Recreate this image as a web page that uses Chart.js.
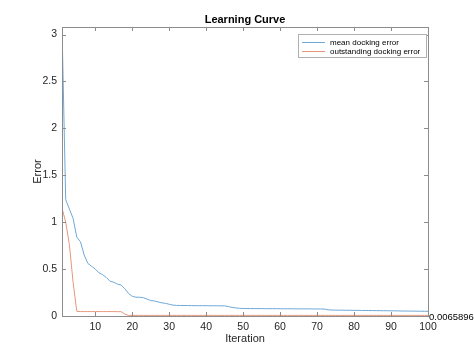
<!DOCTYPE html>
<html><head><meta charset="utf-8">
<script src="https://cdn.jsdelivr.net/npm/chart.js@4"></script>
<style>html,body{margin:0;padding:0;background:#fff}#w{width:474px;height:355px}</style>
</head><body><div id="w"><canvas id="c" width="474" height="355"></canvas></div>
<script>
const iterations = Array.from({length:100},(_,i)=>i+1);
const meanError = [3.08,1.24,1.14,1.04,0.84,0.79,0.65,0.56,0.53,0.50,
 0.46,0.44,0.41,0.37,0.36,0.34,0.33,0.29,0.24,0.21,
 0.20,0.20,0.195,0.18,0.165,0.16,0.15,0.14,0.135,0.125,
 0.116,0.113,0.112,0.112,0.111,0.111,0.110,0.110,0.110,0.110,
 0.109,0.109,0.109,0.108,0.108,0.100,0.092,0.086,0.082,0.080,
 0.080,0.079,0.079,0.079,0.079,0.078,0.078,0.078,0.078,0.077,
 0.077,0.077,0.077,0.076,0.076,0.076,0.076,0.076,0.075,0.075,
 0.075,0.074,0.066,0.063,0.063,0.062,0.062,0.061,0.061,0.060,
 0.060,0.059,0.059,0.058,0.058,0.057,0.057,0.056,0.056,0.055,
 0.055,0.054,0.053,0.053,0.052,0.052,0.051,0.051,0.050,0.050];
const outstandingError = [1.15,1.0,0.76,0.36,0.05,0.047,0.047,0.047,0.047,0.047,
 0.047,0.047,0.047,0.047,0.047,0.046,0.046,0.02,0.0066,0.0066];
for (let i = outstandingError.length; i < 100; i++) outstandingError.push(0.0065896);
const finalLabel = "0.0065896";
const xTicks = [10,20,30,40,50,60,70,80,90,100];
const yTicks = [0,0.5,1,1.5,2,2.5,3];
const seriesNames = ["mean docking error","outstanding docking error"];
const colors = ["#6ea8d8","#e6977a"];

const FONT = "'Liberation Sans', Arial, Helvetica, sans-serif";
const axisColor = "#8c8c8c";

const decor = {
  id:'decor',
  afterDatasetsDraw(chart){
    const {ctx, chartArea:a, scales:{x,y}} = chart;
    ctx.save();
    ctx.strokeStyle = axisColor; ctx.lineWidth = 1;
    ctx.strokeRect(Math.round(a.left)+0.5, Math.round(a.top)+0.5, Math.round(a.right-a.left), Math.round(a.bottom-a.top));
    const tl = 4;
    ctx.beginPath();
    xTicks.forEach(v=>{const px=Math.round(x.getPixelForValue(v))+0.5;
      ctx.moveTo(px,a.bottom);ctx.lineTo(px,a.bottom-tl);
      ctx.moveTo(px,a.top);ctx.lineTo(px,a.top+tl);});
    yTicks.forEach(v=>{const py=Math.round(y.getPixelForValue(v))+0.5;
      ctx.moveTo(a.left,py);ctx.lineTo(a.left+tl,py);
      ctx.moveTo(a.right,py);ctx.lineTo(a.right-tl,py);});
    ctx.stroke();
    // title
    ctx.fillStyle = "#000";
    ctx.font = "bold 11px " + FONT;
    ctx.textAlign = "center"; ctx.textBaseline = "alphabetic";
    ctx.fillText("Learning Curve", (a.left+a.right)/2, 23);
    // final value label
    const last = outstandingError.length-1;
    ctx.font = "9.5px " + FONT;
    ctx.textAlign = "left"; ctx.textBaseline = "middle";
    ctx.fillText(finalLabel, x.getPixelForValue(iterations[last])+1, y.getPixelForValue(outstandingError[last])+2);
    // legend
    const bx=298, by=34, bw=128, bh=23;
    ctx.fillStyle="#fff"; ctx.fillRect(bx,by,bw,bh);
    ctx.strokeStyle="#b0b0b0"; ctx.strokeRect(bx+0.5,by+0.5,bw,bh);
    ctx.font = "8px " + FONT; ctx.fillStyle="#000";
    seriesNames.forEach((n,i)=>{
      const ly = by + 8.5 + i*9;
      ctx.strokeStyle = colors[i]; ctx.beginPath();
      ctx.moveTo(302,ly);ctx.lineTo(325,ly);ctx.stroke();
      ctx.fillText(n,330,ly);
    });
    ctx.restore();
  }
};

new Chart(document.getElementById('c'),{
  type:'line',
  data:{labels:iterations,datasets:[
    {label:seriesNames[0],data:meanError,borderColor:colors[0],borderWidth:1,pointRadius:0,tension:0,fill:false},
    {label:seriesNames[1],data:outstandingError,borderColor:colors[1],borderWidth:1,pointRadius:0,tension:0,fill:false}
  ]},
  options:{
    responsive:false, animation:false, devicePixelRatio:1,
    layout:{padding:{left:0,top:27,right:46,bottom:0}},
    plugins:{legend:{display:false},title:{display:false},tooltip:{enabled:false}},
    scales:{
      x:{type:'linear',min:1,max:100,
        afterBuildTicks:s=>{s.ticks=xTicks.map(v=>({value:v}));},
        afterFit:s=>{s.height=39;},
        grid:{display:false,drawTicks:false},
        border:{display:false},
        ticks:{padding:5,color:'#262626',font:{family:FONT,size:10.5},maxRotation:0,autoSkip:false,callback:v=>String(v)},
        title:{display:true,text:'Iteration',color:'#262626',font:{family:FONT,size:11},padding:{top:0,bottom:9}}
      },
      y:{type:'linear',min:0,max:3.08,
        afterBuildTicks:s=>{s.ticks=yTicks.map(v=>({value:v}));},
        afterFit:s=>{s.width=62;},
        grid:{display:false,drawTicks:false},
        border:{display:false},
        ticks:{padding:5,color:'#262626',font:{family:FONT,size:10.5},callback:v=>String(v)},
        title:{display:true,text:'Error',color:'#262626',font:{family:FONT,size:11},padding:{top:31,bottom:0}}
      }
    }
  },
  plugins:[decor]
});
</script></body></html>
